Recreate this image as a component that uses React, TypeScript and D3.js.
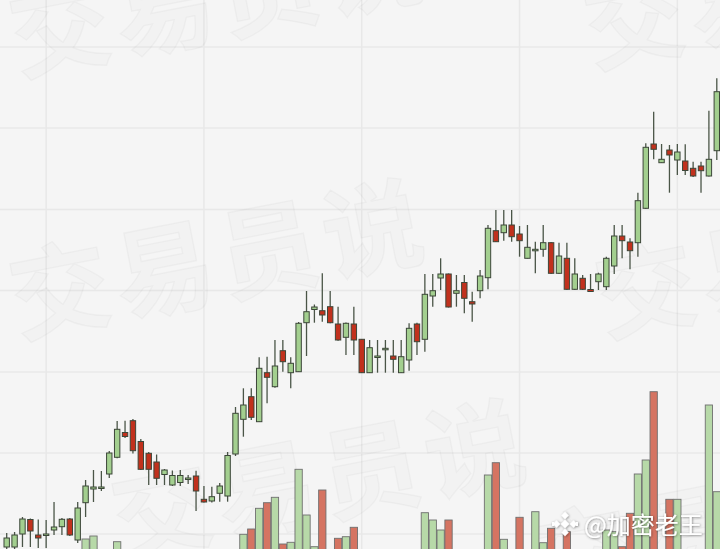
import React from "react";
import * as d3 from "d3";

// ---- data ----
const opens = [5.3, 5.3, 6.6, 8.05, 6.5, 6.55, 7.0, 7.33, 8.1, 6.0, 9.73, 11.1, 11.2, 12.6, 14.27, 16.75, 17.93, 15.85, 14.67, 13.8, 12.55, 11.5, 11.75, 12.15, 12.4, 10.07, 9.9, 10.67, 10.4, 14.6, 18.07, 20.33, 17.83, 22.73, 21.33, 24.93, 22.73, 22.83, 27.73, 29.05, 28.93, 29.33, 27.6, 26.27, 27.6, 26.07, 22.73, 24.35, 25.15, 24.4, 22.73, 24.0, 27.6, 26.07, 30.4, 32.2, 32.6, 30.67, 31.75, 29.83, 30.93, 32.23, 36.93, 36.73, 37.5, 36.6, 34.17, 35.05, 35.07, 35.73, 32.67, 34.17, 31.07, 32.17, 31.05, 31.83, 31.33, 33.4, 36.4, 35.8, 35.73, 39.17, 45.6, 43.73, 45.0, 44.0, 43.9, 43.17, 43.4, 42.4, 44.93];
const closes = [6.2, 6.5, 8.1, 6.9, 6.2, 6.6, 7.3, 8.07, 6.5, 9.2, 11.4, 11.3, 11.3, 14.7, 17.07, 16.35, 14.93, 13.07, 13.07, 12.17, 13.0, 12.45, 12.45, 12.2, 10.9, 9.8, 10.33, 11.4, 14.45, 18.67, 19.5, 18.27, 23.17, 22.27, 23.4, 23.83, 23.67, 27.67, 28.83, 29.3, 28.5, 27.73, 26.0, 27.67, 26.0, 22.73, 25.23, 24.4, 25.17, 24.07, 24.33, 27.17, 25.83, 30.57, 30.93, 32.6, 29.3, 30.93, 30.17, 29.6, 32.4, 37.17, 35.83, 37.5, 36.33, 35.93, 35.27, 35.07, 35.73, 32.67, 34.4, 31.07, 32.6, 31.07, 30.85, 32.6, 34.17, 36.4, 35.93, 34.93, 39.93, 45.27, 45.07, 44.07, 44.5, 44.8, 42.95, 42.4, 42.93, 44.07, 50.83];
const highs = [6.7, 6.8, 8.3, 8.15, 8.05, 8.0, 9.8, 8.2, 8.2, 9.8, 12.0, 13.0, 12.9, 14.9, 17.9, 17.93, 18.1, 16.1, 14.8, 14.55, 13.1, 12.95, 13.0, 12.5, 12.93, 11.4, 11.33, 11.7, 14.8, 19.3, 21.17, 21.17, 24.27, 24.33, 26.0, 26.0, 24.27, 27.8, 30.9, 29.55, 32.67, 30.9, 29.33, 27.75, 29.33, 26.1, 26.0, 26.0, 26.0, 26.0, 26.0, 27.67, 27.73, 32.6, 32.6, 34.17, 32.65, 32.5, 32.5, 30.83, 33.0, 37.5, 39.0, 39.0, 39.0, 37.4, 37.5, 35.83, 37.5, 35.8, 35.73, 35.73, 34.17, 32.5, 32.6, 32.73, 34.33, 37.5, 37.5, 36.17, 40.73, 45.67, 48.83, 45.6, 45.5, 45.6, 45.57, 43.83, 43.83, 48.93, 52.17];
const lows = [4.9, 5.0, 5.3, 5.3, 5.2, 5.2, 6.5, 6.5, 6.4, 5.7, 8.3, 9.8, 10.9, 12.2, 14.17, 16.2, 14.65, 13.0, 11.5, 11.5, 11.5, 11.4, 11.4, 11.6, 8.9, 9.75, 9.75, 9.83, 9.83, 14.4, 16.33, 18.0, 17.8, 19.67, 21.23, 22.83, 21.17, 22.8, 24.4, 27.73, 27.83, 27.67, 25.93, 24.5, 24.5, 22.7, 22.7, 22.73, 22.73, 22.73, 22.7, 22.93, 24.5, 24.83, 29.33, 31.0, 29.25, 29.33, 28.67, 27.83, 30.17, 31.07, 35.8, 35.93, 35.83, 34.33, 34.15, 32.67, 34.33, 32.6, 32.6, 31.0, 31.0, 31.0, 30.8, 31.0, 31.0, 32.6, 34.17, 33.07, 34.33, 39.1, 44.07, 43.7, 40.73, 42.5, 42.5, 42.3, 40.73, 42.35, 44.0];
const volumes = [300, 250, 380, 320, 200, 180, 260, 310, 350, 470, 610, 640, 220, 400, 583, 280, 450, 420, 330, 360, 210, 240, 190, 170, 440, 230, 200, 260, 480, 470, 657, 710, 917, 973, 1027, 560, 577, 1307, 850, 533, 1100, 430, 617, 633, 727, 480, 390, 200, 180, 210, 350, 460, 370, 873, 800, 700, 800, 250, 410, 300, 380, 1250, 1373, 607, 450, 827, 420, 883, 573, 717, 390, 683, 340, 280, 220, 310, 700, 683, 533, 867, 1260, 1400, 2083, 300, 1007, 1007, 470, 350, 400, 1950, 1083];
const gridPrices = [6.6, 14.7, 22.8, 30.95, 39.05, 47.2, 55.3];
const gridIndices = [5, 25, 45, 65, 85];
const watermarkText = "交易员说";
const signature = "@加密老王";

const W = 720;
const H = 549;

export default function App() {
  const n = opens.length;
  const x = d3.scaleBand<number>().domain(d3.range(n)).range([2.75, 2.75 + n * 7.89]).padding(0);
  const y = d3.scaleLinear().domain([5.1, 60]).range([H, 0]);
  const yv = d3.scaleLinear().domain([0, 2200]).range([600, 380]);
  const bw = x.bandwidth();
  const cx = (i: number) => (x(i) as number) + bw / 2;
  const bodyW = 5.4;
  const volW = bw - 0.6;

  const greenBody = "#a3cf8f";
  const redBody = "#c1311d";
  const greenVol = "#b7d9a8";
  const redVol = "#d57462";
  const outline = "#3c4639";

  const wmRows = [
    { x: 18, y: 336 },
    { x: 18, y: 74 },
    { x: 120, y: 556 },
    { x: 592, y: 66 },
    { x: 604, y: 335 },
    { x: 540, y: 600 },
  ];

  return (
    <div style={{ position: "absolute", left: 0, top: 0, width: W, height: H }}>
      <svg width={W} height={H} style={{ display: "block", overflow: "hidden" }}>
        <defs>
          <clipPath id="plot">
            <rect x={0} y={0} width={W} height={H} />
          </clipPath>
          <filter id="sh" x="-10%" y="-30%" width="130%" height="160%">
            <feDropShadow dx="0.6" dy="0.6" stdDeviation="0.9" floodColor="#000" floodOpacity="0.5" />
          </filter>
        </defs>
        <rect x={0} y={0} width={W} height={H} fill="#f5f5f5" />
        {/* grid */}
        {gridPrices.map((p, k) => (
          <line key={"h" + k} x1={0} x2={W} y1={y(p)} y2={y(p)} stroke="#e8e8e8" strokeWidth={1.5} />
        ))}
        {gridIndices.map((i, k) => (
          <line key={"v" + k} x1={cx(i)} x2={cx(i)} y1={0} y2={H} stroke="#e8e8e8" strokeWidth={1.5} />
        ))}
        {/* watermark */}
        <g clipPath="url(#plot)" fontFamily="'Noto Sans CJK SC', sans-serif" fontSize={100} fontWeight={700} letterSpacing={6}>
          {wmRows.map((r, k) => (
            <text
              key={"wm" + k}
              x={r.x}
              y={r.y}
              transform={`rotate(-11 ${r.x} ${r.y})`}
              fill="#000"
              fillOpacity={0.01}
              stroke="#000"
              strokeOpacity={0.03}
              strokeWidth={1.5}
            >
              {watermarkText}
            </text>
          ))}
        </g>
        {/* volume */}
        <g clipPath="url(#plot)">
          {volumes.map((v, i) => {
            const up = closes[i] >= opens[i];
            return (
              <rect
                key={"v" + i}
                x={cx(i) - volW / 2}
                y={yv(v)}
                width={volW}
                height={yv(0) - yv(v)}
                fill={up ? greenVol : redVol}
                stroke="#6f6f6f"
                strokeWidth={0.9}
              />
            );
          })}
        </g>
        {/* candles */}
        <g clipPath="url(#plot)">
          {opens.map((o, i) => {
            const c = closes[i];
            const up = c >= o;
            const top = y(Math.max(o, c));
            const bot = y(Math.min(o, c));
            const h = Math.max(bot - top, 1.5);
            return (
              <g key={"c" + i}>
                <line x1={cx(i)} x2={cx(i)} y1={y(highs[i])} y2={y(lows[i])} stroke="#4a5547" strokeWidth={1.3} />
                <rect
                  x={cx(i) - bodyW / 2}
                  y={top}
                  width={bodyW}
                  height={h}
                  fill={up ? greenBody : redBody}
                  stroke={outline}
                  strokeWidth={1}
                />
              </g>
            );
          })}
        </g>
        {/* signature */}
        <g filter="url(#sh)">
          <g transform="translate(565,524)">
            {[
              [0, -8.5],
              [-8.5, 0],
              [8.5, 0],
              [0, 8.5],
            ].map((d, k) => (
              <rect key={"lg" + k} x={d[0] - 2.6} y={d[1] - 2.6} width={5.2} height={5.2} transform={`rotate(45 ${d[0]} ${d[1]})`} fill="#fff" />
            ))}
            <rect x={-3} y={-3} width={6} height={6} transform="rotate(45)" fill="#fff" />
            <path d="M-12,-2 L-12,2 M12,-2 L12,2" stroke="#fff" strokeWidth={2} />
          </g>
          <text x={584} y={534} fontFamily="'Noto Sans CJK SC', sans-serif" fontSize={24} fill="#fff">
            {signature}
          </text>
        </g>
      </svg>
    </div>
  );
}
